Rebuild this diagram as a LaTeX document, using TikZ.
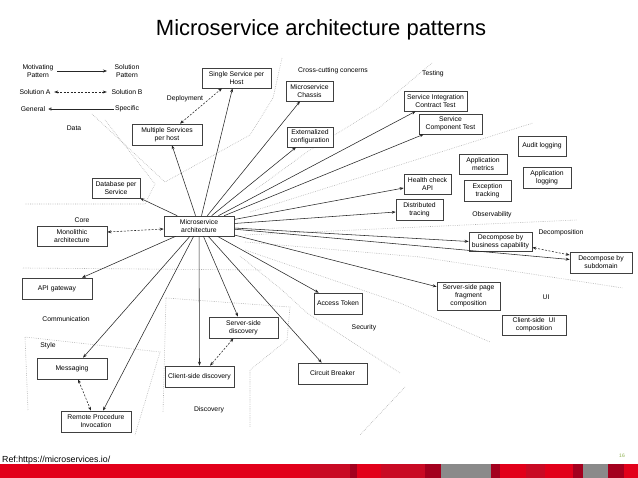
\documentclass[tikz,border=0pt]{standalone}
\usepackage{fontspec}
\setmainfont{Liberation Sans}
\usetikzlibrary{arrows.meta,calc,shadows}
\definecolor{rb}{HTML}{E2001A}
\definecolor{rm}{HTML}{C90A24}
\definecolor{rd}{HTML}{A3001E}
\definecolor{gb}{HTML}{8A8A8A}
\definecolor{pgn}{HTML}{8DB04C}
\newcommand\fs{\fontsize{6.8}{8}\selectfont}
\begin{document}
\begin{tikzpicture}[x=1pt,y=-1pt,
  box/.style={draw=black!75, fill=white, line width=0.6pt, align=center, inner sep=1pt, font=\fs,
    drop shadow={shadow xshift=0.8pt,shadow yshift=-0.8pt,fill=black!45}},
  lbl/.style={font=\fs, inner sep=0.5pt, align=center},
  arr/.style={draw=black!85, line width=0.55pt, -{Stealth[length=4pt,width=3pt]}},
  darr/.style={draw=black!85, line width=0.55pt, dash pattern=on 2pt off 1.5pt,
    {Stealth[length=4pt,width=3pt]}-{Stealth[length=4pt,width=3pt]}},
  region/.style={draw=black!32, line width=0.6pt, dash pattern=on 0.6pt off 1.2pt},
]
\useasboundingbox (0,0) rectangle (638,478);
\fill[white] (0,0) rectangle (638,478);

% region boundaries (dotted)
\draw[region] (92,114) -- (165,182) -- (250,135) -- (273,98) -- (282,58);
\draw[region] (105,120) -- (155,184) -- (145,204) -- (25,204);
\draw[region] (432,63) -- (380,107) -- (307,152) -- (255,190);
\draw[region] (250,212) -- (533,123);
\draw[region] (245,235) -- (420,227) -- (577,220);
\draw[region] (245,242) -- (420,257) -- (623,288);
\draw[region] (245,250) -- (400,303) -- (490,342);
\draw[region] (240,256) -- (282,290) -- (307,313) -- (360,347) -- (400,373);
\draw[region] (405,387) -- (360,435);
\draw[region] (23,268) -- (262,270);
\draw[region] (166,298) -- (290,307) -- (287,340) -- (250,370) -- (250,427);
\draw[region] (166,298) -- (163,413);
\draw[region] (28,410) -- (25,337) -- (160,352) -- (135,435);

% title
\node[anchor=base, font=\fontsize{22}{26}\selectfont, inner sep=0] (title) at (321,36) {Microservice architecture patterns};

% legend
\node[lbl] (lgmp) at (38,71) {Motivating\\Pattern};
\node[lbl] (lgsp) at (127,71) {Solution\\Pattern};
\node[lbl] (lgsa) at (35,92) {Solution A};
\node[lbl] (lgsb) at (127,92) {Solution B};
\node[lbl] (lggen) at (33,109) {General};
\node[lbl] (lgspec) at (127,109) {Specific};
\draw[arr, shorten <=3pt, shorten >=7pt] (lgmp) -- (lgsp);
\draw[darr, shorten <=3pt, shorten >=4pt] (lgsa) -- (lgsb);
\draw[draw=black!85, line width=0.55pt, {Triangle[open,length=3pt,width=3pt]}-, shorten <=2.5pt] (lggen.east) -- (lgspec.west);

% region labels
\node[lbl] (rData) at (74,128) {Data};
\node[lbl] (rDep) at (185,99) {Deployment};
\node[lbl] (rCross) at (333,71) {Cross-cutting concerns};
\node[lbl] (rTest) at (433,74) {Testing};
\node[lbl] (rObs) at (492,215) {Observability};
\node[lbl] (rDec) at (561,233) {Decomposition};
\node[lbl] (rUI) at (546,297) {UI};
\node[lbl] (rCore) at (82,220) {Core};
\node[lbl] (rComm) at (66,319) {Communication};
\node[lbl] (rStyle) at (48,346) {Style};
\node[lbl] (rSec) at (364,328) {Security};
\node[lbl] (rDisc) at (209,410) {Discovery};

% boxes
\node[box,minimum width=70,minimum height=20] (ma) at (199,226) {Microservice\\architecture};
\node[box,minimum width=70,minimum height=20] (mono) at (72,236) {Monolithic\\architecture};
\node[box,minimum width=48,minimum height=20] (db) at (116,188) {Database per\\Service};
\node[box,minimum width=70,minimum height=21] (mult) at (167,134.5) {Multiple Services\\per host};
\node[box,minimum width=69,minimum height=20] (single) at (236.5,78) {Single Service per\\Host};
\node[box,minimum width=47,minimum height=20] (chassis) at (309.5,91) {Microservice\\Chassis};
\node[box,minimum width=46,minimum height=20] (ext) at (310,137) {Externalized\\configuration};
\node[box,minimum width=63,minimum height=20] (sict) at (435.5,101) {Service Integration\\Contract Test};
\node[box,minimum width=63,minimum height=20] (sct) at (450.5,124) {Service\\Component Test};
\node[box,minimum width=48,minimum height=20] (audit) at (542,146) {Audit logging};
\node[box,minimum width=48,minimum height=20] (appm) at (483,164) {Application\\metrics};
\node[box,minimum width=48,minimum height=21] (appl) at (547,177.5) {Application\\logging};
\node[box,minimum width=47,minimum height=21] (exc) at (487.5,190.5) {Exception\\tracking};
\node[box,minimum width=47,minimum height=20] (health) at (427.5,184) {Health check\\API};
\node[box,minimum width=47,minimum height=21] (dist) at (419.5,210) {Distributed\\tracing};
\node[box,minimum width=63,minimum height=19] (dbc) at (500.5,241.5) {Decompose by\\business capability};
\node[box,minimum width=62,minimum height=21] (sub) at (601,262.5) {Decompose by\\subdomain};
\node[box,minimum width=63,minimum height=28] (sspfc) at (468.5,296) {Server-side page\\fragment\\composition};
\node[box,minimum width=64,minimum height=20] (csui) at (534,325) {Client-side~ UI\\composition};
\node[box,minimum width=70,minimum height=21] (api) at (57,288.5) {API gateway};
\node[box,minimum width=48,minimum height=21] (acc) at (338,303.5) {Access Token};
\node[box,minimum width=69,minimum height=21] (ssd) at (243.5,327.5) {Server-side\\discovery};
\node[box,minimum width=69,minimum height=21] (csd) at (199.5,376.5) {Client-side discovery};
\node[box,minimum width=69,minimum height=21] (cb) at (332.5,373.5) {Circuit Breaker};
\node[box,minimum width=70,minimum height=21] (msg) at (72,368.5) {Messaging};
\node[box,minimum width=70,minimum height=21] (rpi) at (96,421.5) {Remote Procedure\\Invocation};

% connectors from Microservice architecture
\draw[arr] (ma) -- (db.south east);
\draw[arr] (ma) -- ($(mult.south)+(5,0)$);
\draw[arr] (ma) -- ($(single.south)+(-4,0)$);
\draw[arr] (ma) -- ($(chassis.south)+(-9.5,0)$);
\draw[arr] (ma) -- ($(ext.south)+(-14,0)$);
\draw[arr] (ma) -- ($(sict.south west)+(12,0)$);
\draw[arr] (ma) -- ($(sct.south west)+(5,0)$);
\draw[arr] (ma) -- ($(health.west)+(0,4)$);
\draw[arr] (ma) -- ($(dist.west)+(0,2)$);
\draw[arr] (ma) -- (dbc.west);
\draw[arr] (ma) -- ($(sub.west)+(0,-3)$);
\draw[arr] (ma) -- ($(sspfc.north west)+(0,5)$);
\draw[arr] (ma) -- ($(acc.north west)+(5,0)$);
\draw[arr] (ma) -- ($(cb.north west)+(24,0)$);
\draw[arr] (ma) -- ($(ssd.north)+(-5.5,0)$);
\draw[arr] (ma) -- (csd.north);
\draw[arr] (ma) -- ($(msg.north)+(11,0)$);
\draw[arr] (ma) -- ($(rpi.north)+(7,0)$);
\draw[arr] (ma) -- ($(api.north)+(25,0)$);

% dashed alternatives
\draw[darr] ($(mono.east)+(0,-4)$) -- ($(ma.west)+(0,3)$);
\draw[darr] ($(mult.north)+(13,0)$) -- ($(single.south)+(-14.5,0)$);
\draw[darr] ($(msg.south)+(6,0)$) -- ($(rpi.north)+(-5,0)$);
\draw[darr] ($(ssd.south)+(-10,0)$) -- ($(csd.north)+(10.5,0)$);
\draw[darr] ($(dbc.east)+(0,6)$) -- ($(sub.west)+(0,-7.5)$);

% footer
\node[anchor=base west, font=\fontsize{8.8}{10}\selectfont, inner sep=0] (ref) at (2,463) {Ref:https://microservices.io/};
\node[font=\fontsize{5}{6}\selectfont, text=pgn, inner sep=0] (pg) at (622,456) {16};
\fill[rb] (0,464) rectangle (310,478);
\fill[rm] (310,464) rectangle (350,478);
\fill[rd] (350,464) rectangle (357,478);
\fill[rb] (357,464) rectangle (381,478);
\fill[rm] (381,464) rectangle (425,478);
\fill[rd] (425,464) rectangle (441,478);
\fill[gb] (441,464) rectangle (491,478);
\fill[rd] (491,464) rectangle (500,478);
\fill[rb] (500,464) rectangle (526,478);
\fill[rm] (526,464) rectangle (545,478);
\fill[rb] (545,464) rectangle (573,478);
\fill[rd] (573,464) rectangle (583,478);
\fill[gb] (583,464) rectangle (608,478);
\fill[rd] (608,464) rectangle (624,478);
\fill[rb] (624,464) rectangle (638,478);
\end{tikzpicture}
\end{document}
